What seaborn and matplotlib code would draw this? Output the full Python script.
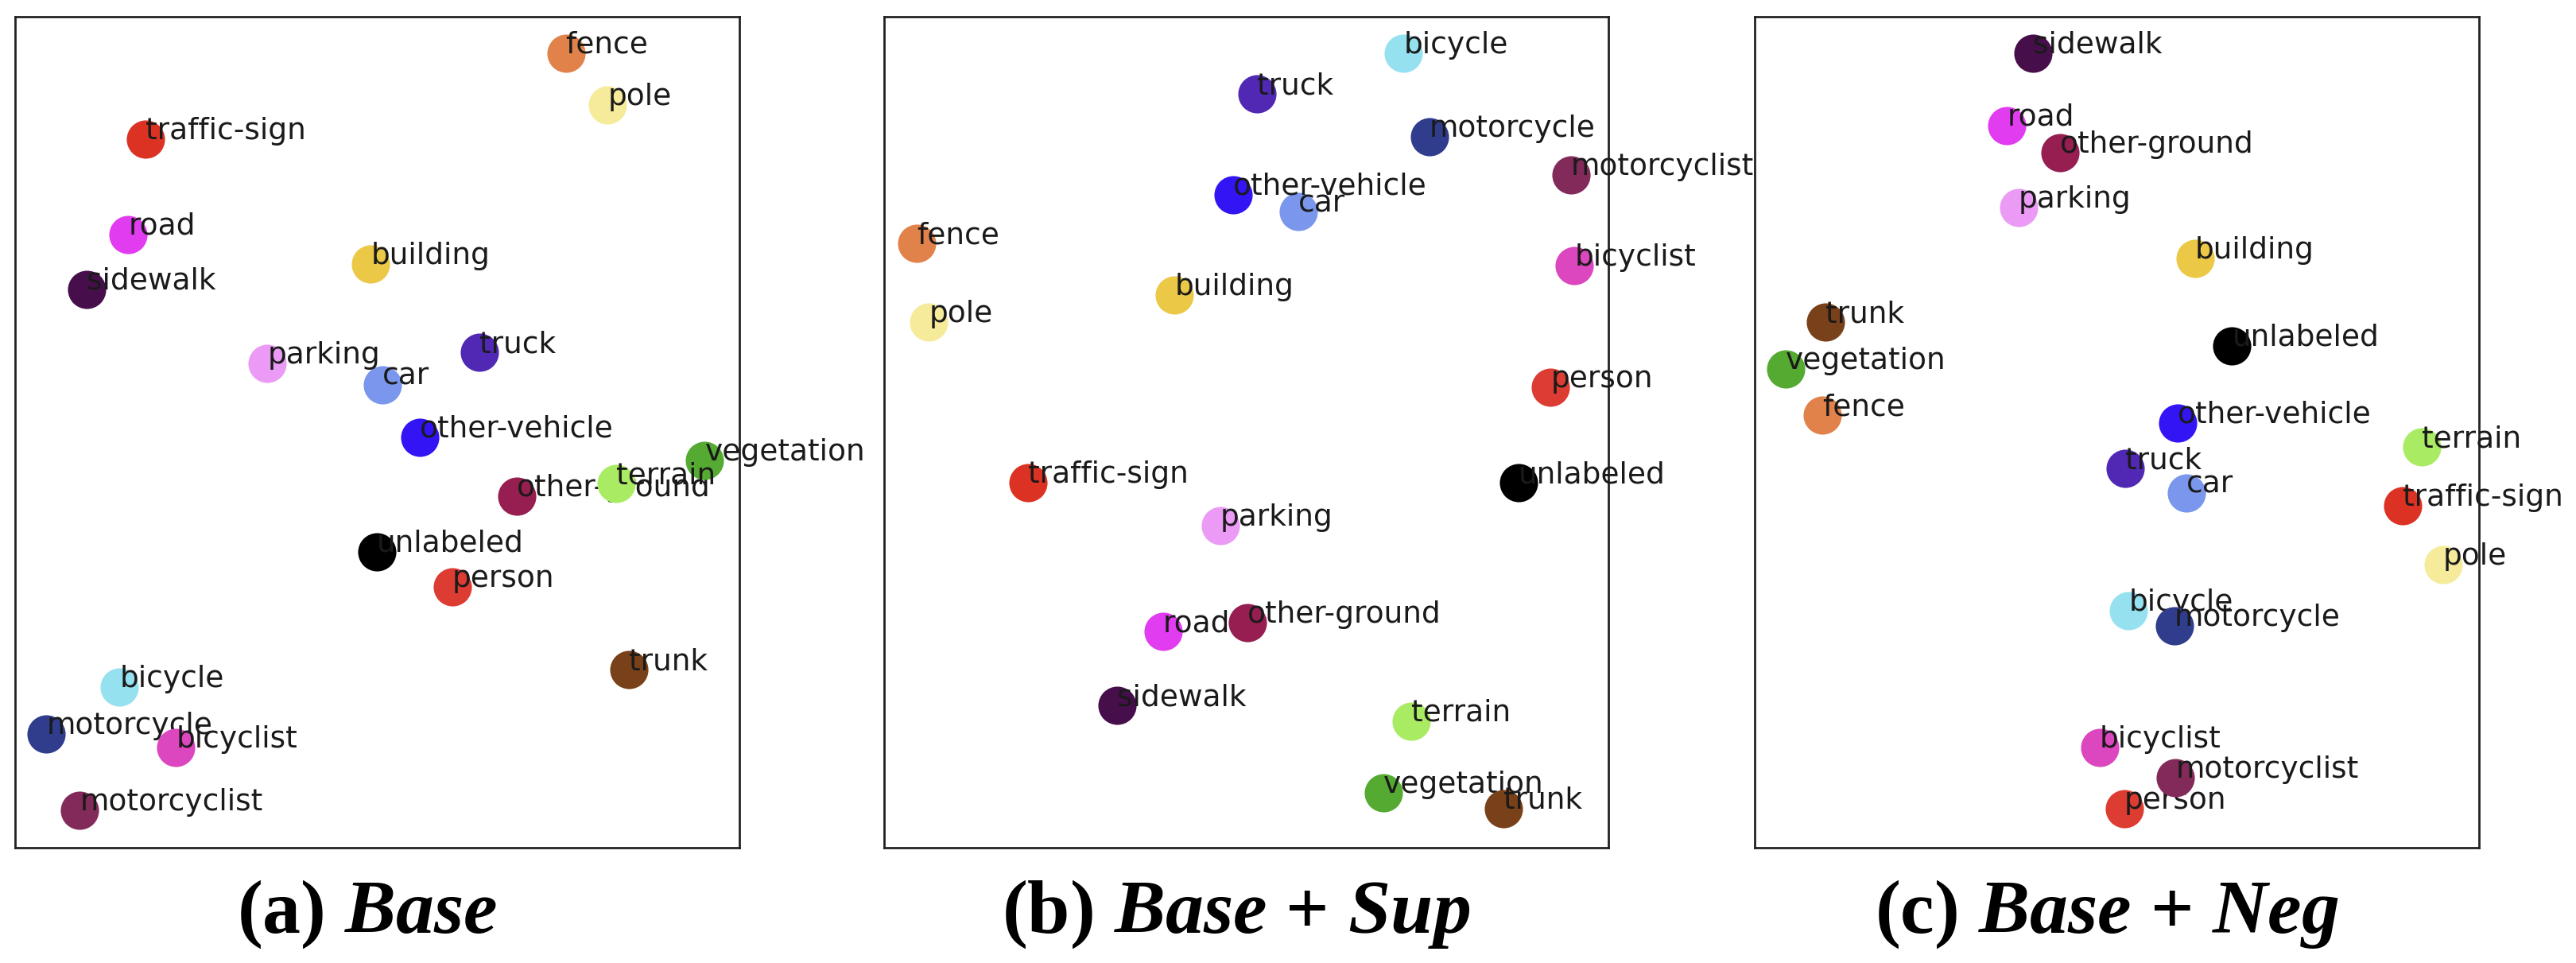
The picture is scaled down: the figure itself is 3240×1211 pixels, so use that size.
import pandas as pd
import matplotlib
matplotlib.use("Agg")
import matplotlib.pyplot as plt
import seaborn as sns

# class names and colours (same for every panel)
classes = ['unlabeled', 'car', 'bicycle', 'motorcycle', 'truck', 'other-vehicle', 'person',
           'bicyclist', 'motorcyclist', 'road', 'parking', 'sidewalk', 'other-ground',
           'building', 'fence', 'vegetation', 'trunk', 'terrain', 'pole', 'traffic-sign']
colors = ['#000000', '#7a96ed', '#96e1f0', '#303c8c', '#5028b4', '#3214f5', '#dc3c32',
          '#dc46be', '#822a5a', '#e13cf0', '#eb9bf5', '#460f4b', '#961e50',
          '#ebc846', '#e1824b', '#55aa32', '#784119', '#aaeb64', '#f5eb9b', '#dc3223']

# embedding coordinates (0-100 box)
base_x = [49.9, 50.7, 14.4, 4.3, 64.1, 55.8, 60.3, 22.2, 8.9, 15.6,
          34.8, 9.9, 69.2, 49.1, 76.0, 95.2, 84.7, 83.0, 81.8, 18.0]
base_y = [35.6, 55.7, 19.3, 13.7, 59.6, 49.4, 31.4, 12.0, 4.5, 73.8,
          58.3, 67.2, 42.3, 70.2, 95.6, 46.6, 21.4, 43.8, 89.4, 85.3]

sup_x = [87.6, 57.2, 71.7, 75.3, 51.5, 48.2, 92.0, 95.3, 94.8, 38.5,
         46.4, 32.2, 50.2, 40.1, 4.5, 68.9, 85.5, 72.8, 6.2, 19.9]
sup_y = [43.9, 76.5, 95.6, 85.5, 90.7, 78.6, 55.4, 70.0, 80.9, 26.0,
         38.7, 17.1, 27.1, 66.5, 72.7, 6.6, 4.7, 15.2, 63.2, 43.9]

neg_x = [65.9, 59.6, 51.6, 57.9, 51.1, 58.4, 51.0, 47.6, 58.1, 34.8,
         36.4, 38.4, 42.1, 60.8, 9.3, 4.3, 9.8, 92.1, 95.0, 89.4]
neg_y = [60.4, 42.7, 28.5, 26.7, 45.6, 51.1, 4.7, 12.0, 8.4, 86.9,
         77.0, 95.6, 83.6, 70.9, 52.0, 57.6, 63.2, 48.2, 34.0, 41.1]

captions = [r"(a) $\mathit{Base}$",
            r"(b) $\mathit{Base}$ + $\mathit{Sup}$",
            r"(c) $\mathit{Base}$ + $\mathit{Neg}$"]

sns.set_style("white")
plt.rcParams['mathtext.fontset'] = 'custom'
plt.rcParams['mathtext.it'] = 'Liberation Serif:bold:italic'
plt.rcParams['mathtext.rm'] = 'Liberation Serif:bold'
plt.rcParams['mathtext.bf'] = 'Liberation Serif:bold'

palette = dict(zip(classes, colors))
panels = [(base_x, base_y), (sup_x, sup_y), (neg_x, neg_y)]
lefts = [0.0059, 0.3432, 0.6812]

fig = plt.figure(figsize=(32.4, 12.11), dpi=100)

for k, (xs, ys) in enumerate(panels):
    df = pd.DataFrame({'label': classes, 'x': xs, 'y': ys})
    ax = fig.add_axes([lefts[k], 0.120, 0.2812, 0.8627])
    # one class at a time so later dots sit over earlier labels
    for i, row in df.iterrows():
        sns.scatterplot(data=df.iloc[[i]], x='x', y='y', hue='label', palette=palette,
                        s=1200, linewidth=0, legend=False, ax=ax, zorder=2 * i + 2)
        ax.text(row.x, row.y, row.label, fontsize=27, color='#1a1a1a', zorder=2 * i + 3)
    ax.set_xlim(0, 100)
    ax.set_ylim(0, 100)
    ax.set_xticks([])
    ax.set_yticks([])
    ax.set_xlabel('')
    ax.set_ylabel('')
    for sp in ax.spines.values():
        sp.set_visible(True)
        sp.set_linewidth(2)
        sp.set_color('#222222')
    fig.text(lefts[k] + 0.2812 / 2 - 0.004, 0.051, captions[k], ha='center', va='center',
             fontsize=69, family='Liberation Serif', weight='bold', color='black')

fig.savefig('out.png', dpi=100)
